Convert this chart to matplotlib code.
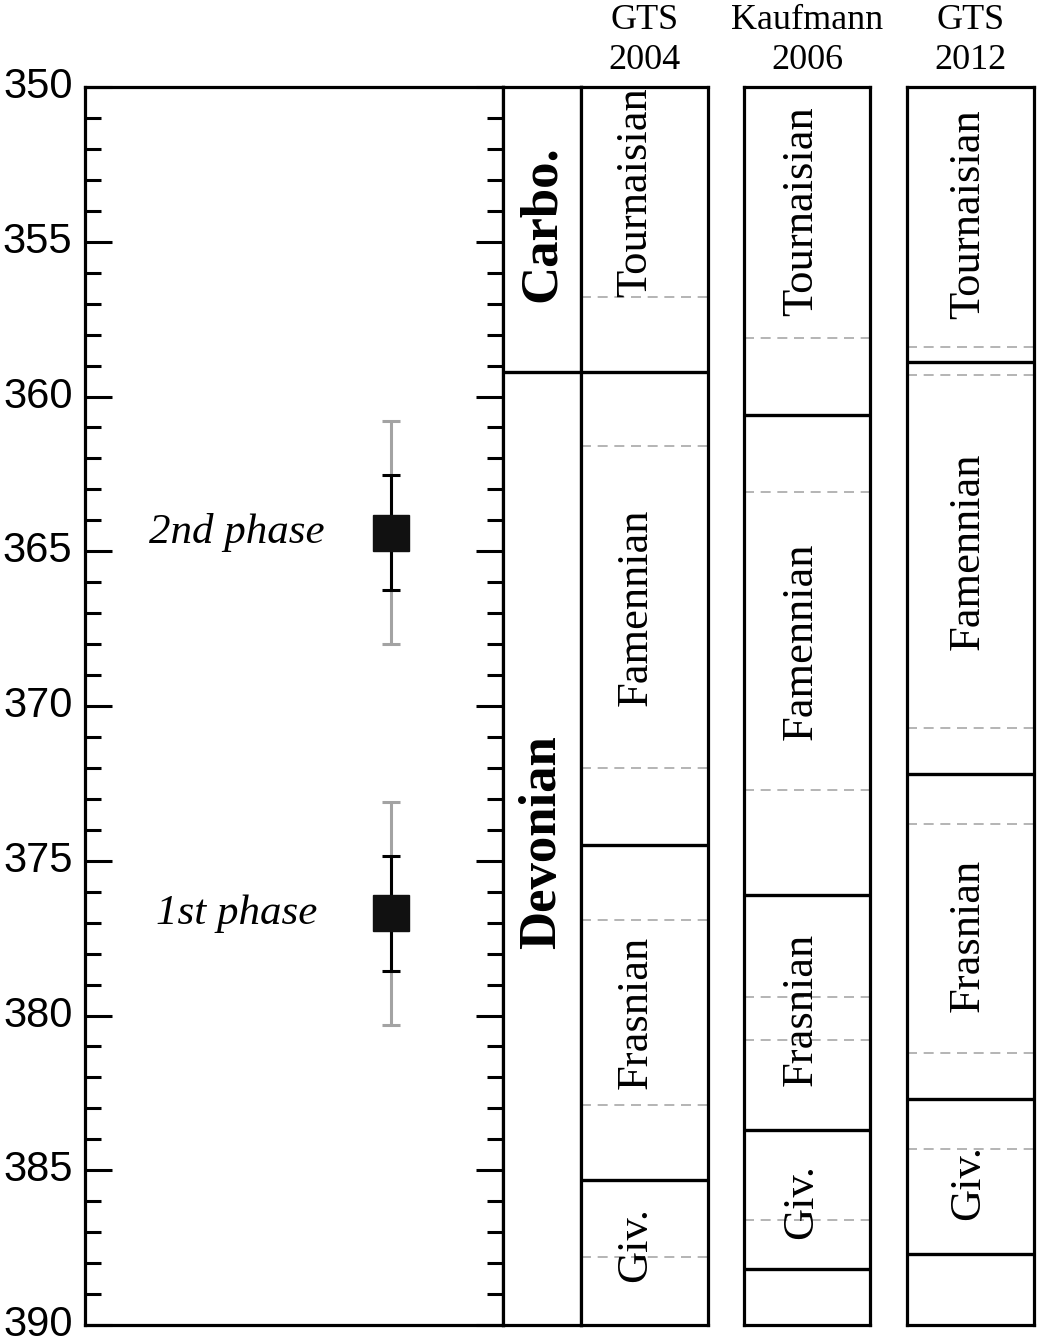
import matplotlib.pyplot as plt
from matplotlib.ticker import MultipleLocator

# ages in Ma
phase_names = ["2nd phase", "1st phase"]
phase_age = [364.4, 376.7]
phase_err_inner = [1.85, 1.85]
phase_err_outer = [3.6, 3.6]

period_names = ["Carbo.", "Devonian"]
period_bounds = [359.2]
period_label_at = [354.4, 374.4]

gts2004_stages = ["Tournaisian", "Famennian", "Frasnian", "Giv."]
gts2004_bounds = [359.2, 374.5, 385.3]
gts2004_dashed = [356.8, 361.6, 372.0, 376.9, 382.9, 387.8]
gts2004_label_at = [353.4, 366.8, 379.9, 387.4]

kauf_stages = ["Tournaisian", "Famennian", "Frasnian", "Giv."]
kauf_bounds = [360.6, 376.1, 383.7, 388.2]
kauf_dashed = [358.1, 363.1, 372.7, 379.4, 380.8, 386.6]
kauf_label_at = [354.0, 367.9, 379.8, 386.0]

gts2012_stages = ["Tournaisian", "Famennian", "Frasnian", "Giv."]
gts2012_bounds = [358.9, 372.2, 382.7, 387.7]
gts2012_dashed = [358.4, 359.3, 370.7, 373.8, 381.2, 384.3]
gts2012_label_at = [354.1, 365.0, 377.4, 385.4]

headers = ["GTS\n2004", "Kaufmann\n2006", "GTS\n2012"]

serif = "Liberation Serif"
W, H = 1039, 1342
fig = plt.figure(figsize=(W / 100, H / 100), dpi=100)


def px_axes(x0, x1):
    # axes placed by pixel edges, all sharing the same vertical span
    a = fig.add_axes([x0 / W, (H - 1325) / H, (x1 - x0) / W, 1238 / H])
    a.set_ylim(390, 350)
    a.set_xlim(0, 1)
    for s in a.spines.values():
        s.set_linewidth(2.3)
    return a


ax = px_axes(85, 503)
ax.yaxis.set_major_locator(MultipleLocator(5))
ax.yaxis.set_minor_locator(MultipleLocator(1))
ax.tick_params(axis="y", which="both", direction="in", left=True, right=True,
               width=2.2, pad=9)
ax.tick_params(axis="y", which="major", length=19.5, labelsize=30)
ax.tick_params(axis="y", which="minor", length=11.5)
ax.set_xticks([])
for lab in ax.get_yticklabels():
    lab.set_fontfamily("Liberation Sans")
    lab.set_verticalalignment("center")

xe = 0.732
ax.errorbar([xe, xe], phase_age, yerr=phase_err_outer, fmt="none",
            ecolor="#a3a3a3", elinewidth=2.2, capsize=6.8, capthick=2.2)
ax.errorbar([xe, xe], phase_age, yerr=phase_err_inner, fmt="none",
            ecolor="black", elinewidth=2.2, capsize=6.8, capthick=2.2)
ax.plot([xe, xe], phase_age, ls="none", marker="s", ms=26, color="#111111")
for name, age in zip(phase_names, phase_age):
    ax.text(0.363, age, name, ha="center", va="center", fontsize=31,
            family=serif, style="italic")

# period column
axp = px_axes(503, 581)
axp.set_xticks([])
axp.set_yticks([])
for b in period_bounds:
    axp.axhline(b, color="black", lw=2.4)
for name, y in zip(period_names, period_label_at):
    axp.text(0.5, y, name, rotation=90, ha="center", va="center",
             fontsize=38, family=serif, weight="bold")

columns = [
    (581, 708, 0.43, gts2004_stages, gts2004_bounds, gts2004_dashed, gts2004_label_at),
    (744, 870, 0.45, kauf_stages, kauf_bounds, kauf_dashed, kauf_label_at),
    (907, 1034, 0.48, gts2012_stages, gts2012_bounds, gts2012_dashed, gts2012_label_at),
]
for (x0, x1, xt, stages, bounds, dashed, label_at), head in zip(columns, headers):
    c = px_axes(x0, x1)
    c.set_xticks([])
    c.set_yticks([])
    for d in dashed:
        c.axhline(d, color="#a8a8a8", lw=1.2, ls=(0, (6, 4)), zorder=1)
    for b in bounds:
        c.axhline(b, color="black", lw=2.4, zorder=2)
    for name, y in zip(stages, label_at):
        c.text(xt, y, name, rotation=90, ha="center", va="center",
               fontsize=32, family=serif, zorder=3)
    c.annotate(head, xy=(0.5, 1), xycoords="axes fraction", xytext=(0, 7),
               textcoords="offset points", ha="center", va="bottom",
               fontsize=26, family=serif, linespacing=1.3)

fig.savefig("out.png", dpi=100)
